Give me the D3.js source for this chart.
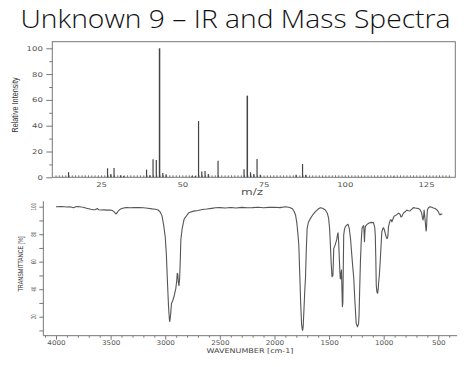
<!DOCTYPE html>
<html><head><meta charset="utf-8">
<script src="https://cdn.jsdelivr.net/npm/d3@7"></script>
<style>body{margin:0;background:#fff;} svg{display:block;}</style>
</head><body><svg id="c" width="474" height="367"></svg>
<script>
const titleText = "Unknown 9 – IR and Mass Spectra";
// Mass spectrum
const msMz  = [15, 27, 28, 29, 31, 32, 39, 40, 41, 42, 43, 44, 45, 53, 54, 55, 56, 57, 58, 61, 69, 70, 71, 72, 73, 74, 85, 87, 88, 115];
const msInt = [4, 7, 2.5, 7.2, 1.5, 1, 6, 1.5, 14, 13.4, 100, 3.3, 2.3, 1.2, 1, 43.6, 4.4, 4.9, 2.6, 12.9, 6.2, 63.3, 3.9, 2.6, 14.2, 2, 2, 10.3, 2, 0.5];
const msYTicks = [0, 20, 40, 60, 80, 100];
const msYMinor = [10, 30, 50, 70, 90];
const msXTicks = [25, 50, 75, 100, 125];
const msXLabel = "m/z";
const msYLabel = "Relative Intensity";
// IR spectrum
const irWave = [4000,3950,3900,3870,3840,3820,3795,3770,3750,3720,3700,3680,3660,3640,3620,3610,3590,3560,3530,3500,3480,3465,3452,3440,3430,3410,3390,3360,3320,3280,3240,3200,3160,3120,3090,3065,3045,3030,3015,3000,2990,2980,2970,2962,2958,2950,2943,2930,2920,2910,2903,2895,2890,2885,2880,2874,2868,2862,2857,2845,2827,2800,2781,2740,2700,2660,2620,2574,2540,2500,2450,2400,2350,2300,2250,2200,2150,2100,2050,2000,1950,1900,1870,1850,1835,1820,1807,1795,1785,1777,1768,1760,1752,1746,1742,1737,1730,1722,1716,1708,1701,1690,1671,1650,1625,1600,1580,1560,1534,1515,1504,1495,1488,1480,1473,1465,1460,1457,1445,1430,1422,1418,1412,1405,1398,1394,1390,1386,1382,1378,1374,1370,1366,1358,1350,1340,1326,1315,1304,1295,1285,1274,1264,1252,1240,1230,1226,1218,1213,1205,1198,1188,1183,1179,1176,1173,1168,1155,1138,1115,1093,1082,1077,1072,1068,1062,1056,1050,1047,1040,1032,1024,1017,1005,1001,993,986,975,968,962,956,948,940,932,925,915,905,895,880,864,850,842,834,825,810,800,789,775,759,745,728,710,690,670,658,652,645,639,634,630,625,621,616,612,608,604,600,590,576,560,545,530,515,500,490,484,475,463];
const irT = [100,100.2,99.8,100,99.3,100,100.2,99.8,99.6,98.9,98.5,98.1,97.8,97.9,98.6,97.8,97.6,97.7,97.5,97.6,97,96,94.7,95.6,96.9,98.3,98.9,99.3,99.2,99.4,99.3,99.2,98.9,98.4,98.2,97.6,96,93.5,87,78,66,46,28,18,16.5,22,29.5,32,34.5,38,40.6,46,51.5,51,45,42.5,48,62,76,84,91,94,95.8,96.8,97.2,98,98.3,98.8,99.2,99.3,99,99.4,99.1,99.5,99.2,99.3,99.6,99.2,99.5,99.6,99.3,100,99.6,99,98.5,96.5,94,88,80,72,50,30,15,11,10,13,25,40,48,70,84,88.5,91.5,94,96.4,98.3,99.3,98.9,97.6,95,91.5,84,72,58,49.1,50,62,69.7,72,76,80,81,74,60,48,47.5,52,54,40,27.3,30,55,79.4,84,85.5,86.5,87.2,84,77,68,58,48,32,15.2,12.7,15,20,45,60,76,84.3,86,86.2,80,74.5,80,85.5,87,88,88.6,88.4,85,79.4,62,43,38,37,40,44.3,50,60,72,81.8,84.5,84.7,83,80.6,77.5,76.8,78.5,85.5,88,90.3,90.5,89,91,93,93.5,94.2,95.2,94.5,92.5,92.8,94.5,96,96.5,97.6,97,96.9,98,99.3,99,98.8,98.2,96.5,95.2,92,90.3,93,97.6,94,90.3,86,82.3,84,92,97.6,99.2,100,99.6,99.1,98.8,97.8,96.4,94.5,94,94.7,94.5];
const irXTicks = [4000, 3500, 3000, 2500, 2000, 1500, 1000, 500];
const irYTicks = [20, 40, 60, 80, 100];
const irXLabel = "WAVENUMBER [cm-1]";
const irYLabel = "TRANSMITTANCE [%]";

const svg = d3.select("#c");
svg.append("rect").attr("width", 474).attr("height", 367).attr("fill", "#fff");

const axisCol = "#777", textCol = "#555", tickFont = "DejaVu Sans, sans-serif";

// Title
svg.append("text").attr("x", 20.5).attr("y", 28)
  .attr("font-family", "'Open Sans', Lato, sans-serif").attr("font-weight", 300)
  .attr("font-size", 26).attr("fill", "#111")
  .attr("textLength", 430).attr("lengthAdjust", "spacingAndGlyphs")
  .text(titleText);

// ---------- Mass spectrum ----------
const msL = 52.3, msR = 455.3, msT = 41.7, msB = 177.3;
const xMs = d3.scaleLinear().domain([10, 134]).range([msL, msR]);
const yMs = d3.scaleLinear().domain([0, 100]).range([msB, 48.3]);

const ms = svg.append("g");
ms.append("rect").attr("x", msL).attr("y", msT).attr("width", msR - msL).attr("height", msB - msT)
  .attr("fill", "none").attr("stroke", axisCol).attr("stroke-width", 1);

function styleAxis(g) {
  g.select(".domain").remove();
  g.selectAll("line").attr("stroke", axisCol).attr("stroke-width", 1);
  g.selectAll("text").attr("fill", textCol).attr("font-family", tickFont);
}
const fitText = (sel, per) => sel.attr("textLength", function() { return this.textContent.length * per; })
  .attr("lengthAdjust", "spacingAndGlyphs");

const msYAxis = ms.append("g").attr("transform", `translate(${msL},0)`)
  .call(d3.axisLeft(yMs).tickValues(msYTicks).tickSize(6).tickPadding(3.5).tickFormat(d3.format("d")));
styleAxis(msYAxis);
msYAxis.selectAll("text").attr("font-size", 6.5).call(fitText, 5.4);
const msYMin = ms.append("g").attr("transform", `translate(${msL},0)`)
  .call(d3.axisLeft(yMs).tickValues(msYMinor).tickSize(3).tickFormat(""));
styleAxis(msYMin);

const msXMin = ms.append("g").attr("transform", `translate(0,${msB})`)
  .call(d3.axisTop(xMs).tickValues(d3.range(11, 133)).tickSize(2).tickFormat(""));
styleAxis(msXMin);
const msXAxis = ms.append("g").attr("transform", `translate(0,${msB})`)
  .call(d3.axisBottom(xMs).tickValues(msXTicks).tickSize(0).tickPadding(5.5).tickFormat(d3.format("d")));
styleAxis(msXAxis);
msXAxis.selectAll("text").attr("font-size", 6.5).call(fitText, 5.4);

ms.selectAll("line.peak").data(msMz).enter().append("line").attr("class", "peak")
  .attr("x1", d => xMs(d)).attr("x2", d => xMs(d))
  .attr("y1", yMs(0)).attr("y2", (d, i) => yMs(msInt[i]))
  .attr("stroke", "#444").attr("stroke-width", (d, i) => msInt[i] > 50 ? 1.5 : 1.2);

ms.append("text").attr("transform", "translate(18,105) rotate(-90)")
  .attr("text-anchor", "middle").attr("font-family", "'Liberation Sans Narrow', 'Liberation Sans', sans-serif")
  .attr("font-size", 9.5).attr("fill", "#333").attr("textLength", 55).attr("lengthAdjust", "spacingAndGlyphs")
  .text(msYLabel);
ms.append("text").attr("x", 252).attr("y", 195).attr("text-anchor", "middle")
  .attr("font-family", tickFont).attr("font-size", 8.5).attr("fill", textCol)
  .attr("textLength", 22).attr("lengthAdjust", "spacingAndGlyphs").text(msXLabel);

// ---------- IR spectrum ----------
const xIr = d3.scaleLinear().domain([4000, 500]).range([56, 438.3]);
const yIr = d3.scaleLinear().domain([20, 100]).range([316.7, 206.7]);
const irB = yIr(6.2), irTop = yIr(104), irL = xIr(4116), irR = xIr(328);
const ir = svg.append("g");

ir.append("line").attr("x1", irL).attr("x2", irL).attr("y1", irTop).attr("y2", irB).attr("stroke", axisCol);
ir.append("line").attr("x1", irL).attr("x2", irR).attr("y1", irB).attr("y2", irB).attr("stroke", axisCol);

const irYAx = ir.append("g").attr("transform", `translate(${irL},0)`)
  .call(d3.axisLeft(yIr).tickValues(d3.range(10, 101, 10)).tickSize(4).tickFormat(""));
styleAxis(irYAx);
ir.selectAll("text.iry").data(irYTicks).enter().append("text").attr("class", "iry")
  .attr("transform", d => `translate(35.5,${yIr(d)}) rotate(-90)`)
  .attr("text-anchor", "middle").attr("font-family", tickFont).attr("font-size", 6.5).attr("fill", textCol)
  .text(d => d).call(fitText, 2.6);

const irXMin = ir.append("g").attr("transform", `translate(0,${irB})`)
  .call(d3.axisBottom(xIr).tickValues(d3.range(400, 4101, 100).filter(v => v % 500 !== 0)).tickSize(2).tickFormat(""));
styleAxis(irXMin);
const irXAx = ir.append("g").attr("transform", `translate(0,${irB})`)
  .call(d3.axisBottom(xIr).tickValues(irXTicks).tickSize(4).tickPadding(0.5).tickFormat(d3.format("d")));
styleAxis(irXAx);
irXAx.selectAll("text").attr("font-size", 6.5).call(fitText, 4.6);

ir.append("text").attr("x", 250).attr("y", 353).attr("text-anchor", "middle")
  .attr("font-family", tickFont).attr("font-size", 6.5).attr("fill", "#444")
  .attr("textLength", 87).attr("lengthAdjust", "spacingAndGlyphs").text(irXLabel);
ir.append("text").attr("transform", "translate(23,264) rotate(-90)")
  .attr("text-anchor", "middle").attr("font-family", "'Liberation Sans Narrow', 'Liberation Sans', sans-serif")
  .attr("font-size", 7).attr("fill", "#333").attr("textLength", 55).attr("lengthAdjust", "spacingAndGlyphs")
  .text(irYLabel);

const line = d3.line().x((d, i) => xIr(irWave[i])).y((d, i) => yIr(irT[i]));
ir.append("path").datum(irT).attr("d", line).attr("fill", "none")
  .attr("stroke", "#555").attr("stroke-width", 1.1).attr("stroke-linejoin", "round");
</script></body></html>
